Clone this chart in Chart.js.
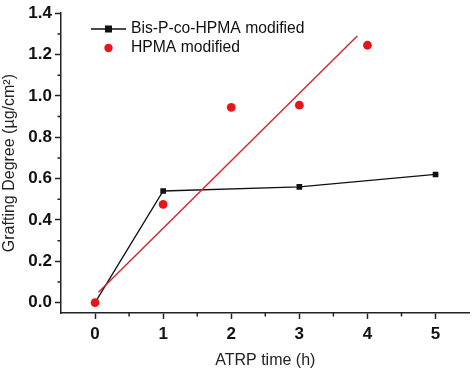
<!DOCTYPE html>
<html>
<head>
<meta charset="utf-8">
<script src="https://cdn.jsdelivr.net/npm/chart.js@4.4.1/dist/chart.umd.min.js"></script>
<style>
  html, body { margin: 0; padding: 0; background: #fff; }
  #wrap { width: 474px; height: 370px; }
</style>
</head>
<body>
<div id="wrap"><canvas id="graftChart" width="474" height="370"></canvas></div>
<script>
// data
const bisTimes = [0, 1, 3, 5]
const bisValues = [0.0, 0.54, 0.56, 0.62]
const hpmaTimes = [0, 1, 2, 3, 4]
const hpmaValues = [0.0, 0.475, 0.945, 0.955, 1.245]
const fitTimes = [0.05, 3.85]
const fitValues = [0.05, 1.29]

const xTicks = [0, 1, 2, 3, 4, 5]
const xMinor = [0.5, 1.5, 2.5, 3.5, 4.5]
const yTicks = [0.0, 0.2, 0.4, 0.6, 0.8, 1.0, 1.2, 1.4]
const yMinor = [0.1, 0.3, 0.5, 0.7, 0.9, 1.1, 1.3]

const seriesNames = ['Bis-P-co-HPMA modified', 'HPMA modified']
const xTitle = 'ATRP time (h)'
const yTitle = 'Grafting Degree (\u00b5g/cm\u00b2)'

const RED = '#e8141c'
const FONT = '"Liberation Sans", Arial, sans-serif'

function pts(xs, ys) {
    return xs.map((x, i) => ({ x: x, y: ys[i] }))
}

// minor ticks + legend
const extras = {
    id: 'extras',
    afterDraw(chart) {
        const ctx = chart.ctx
        const xs = chart.scales.x
        const ys = chart.scales.y
        const area = chart.chartArea
        ctx.save()
        ctx.strokeStyle = '#222'
        ctx.lineWidth = 1.5
        ctx.beginPath()
        xMinor.forEach(v => {
            const px = xs.getPixelForValue(v)
            ctx.moveTo(px, area.bottom)
            ctx.lineTo(px, area.bottom + 3.5)
        })
        yMinor.forEach(v => {
            const py = ys.getPixelForValue(v)
            ctx.moveTo(area.left, py)
            ctx.lineTo(area.left - 3.5, py)
        })
        ctx.stroke()

        // legend
        const lx = area.left + 30
        ctx.font = '15.7px ' + FONT
        ctx.textBaseline = 'middle'
        ctx.fillStyle = '#111'
        ctx.strokeStyle = '#111'
        ctx.lineWidth = 1.3
        ctx.beginPath()
        ctx.moveTo(lx, 29)
        ctx.lineTo(lx + 35, 29)
        ctx.stroke()
        ctx.fillRect(lx + 17.5 - 3.5, 29 - 3.5, 7, 7)
        ctx.fillText(seriesNames[0], lx + 40, 29)
        ctx.fillStyle = RED
        ctx.beginPath()
        ctx.arc(lx + 17.5, 48, 4.2, 0, Math.PI * 2)
        ctx.fill()
        ctx.fillStyle = '#111'
        ctx.fillText(seriesNames[1], lx + 40, 48)
        ctx.restore()
    }
}

const ctx = document.getElementById('graftChart').getContext('2d')
const chart = new Chart(ctx, {
    type: 'scatter',
    data: {
        datasets: [
            {
                label: seriesNames[1],
                data: pts(hpmaTimes, hpmaValues),
                backgroundColor: RED,
                borderColor: RED,
                pointRadius: 4.4,
                pointBorderWidth: 0,
                showLine: false,
                order: 0
            },
            {
                label: 'fit',
                data: pts(fitTimes, fitValues),
                borderColor: '#d82030',
                borderWidth: 1.4,
                pointRadius: 0,
                showLine: true,
                order: 1
            },
            {
                label: seriesNames[0],
                data: pts(bisTimes, bisValues),
                borderColor: '#111',
                backgroundColor: '#111',
                borderWidth: 1.3,
                pointStyle: 'rect',
                pointRadius: 4,
                pointBorderWidth: 0,
                showLine: true,
                order: 2
            }
        ]
    },
    options: {
        responsive: false,
        animation: false,
        layout: { padding: { top: 7, right: 1, left: 0, bottom: 0 } },
        plugins: {
            legend: { display: false },
            tooltip: { enabled: false }
        },
        scales: {
            x: {
                type: 'linear',
                min: -0.5,
                max: 5.5,
                afterBuildTicks: s => { s.ticks = xTicks.map(v => ({ value: v })) },
                afterFit: s => { s.height = 57 },
                grid: {
                    drawOnChartArea: false,
                    drawTicks: true,
                    tickLength: 6,
                    tickWidth: 1.5,
                    tickColor: '#222'
                },
                border: { display: true, color: '#222', width: 1.5 },
                ticks: {
                    color: '#111',
                    padding: 5,
                    maxRotation: 0,
                    font: { family: FONT, size: 17, weight: 'bold' },
                    callback: v => String(v)
                },
                title: {
                    display: true,
                    text: xTitle,
                    color: '#222',
                    padding: 0,
                    font: { family: FONT, size: 16 }
                }
            },
            y: {
                type: 'linear',
                min: -0.05,
                max: 1.4,
                afterBuildTicks: s => { s.ticks = yTicks.map(v => ({ value: v })) },
                afterFit: s => { s.width = 61 },
                grid: {
                    drawOnChartArea: false,
                    drawTicks: true,
                    tickLength: 6,
                    tickWidth: 1.5,
                    tickColor: '#222'
                },
                border: { display: true, color: '#222', width: 1.5 },
                ticks: {
                    color: '#111',
                    padding: 3,
                    font: { family: FONT, size: 17, weight: 'bold' },
                    callback: v => Number(v).toFixed(1)
                },
                title: {
                    display: true,
                    text: yTitle,
                    color: '#222',
                    padding: 0,
                    font: { family: FONT, size: 16 }
                }
            }
        }
    },
    plugins: [extras]
})
</script>
</body>
</html>
